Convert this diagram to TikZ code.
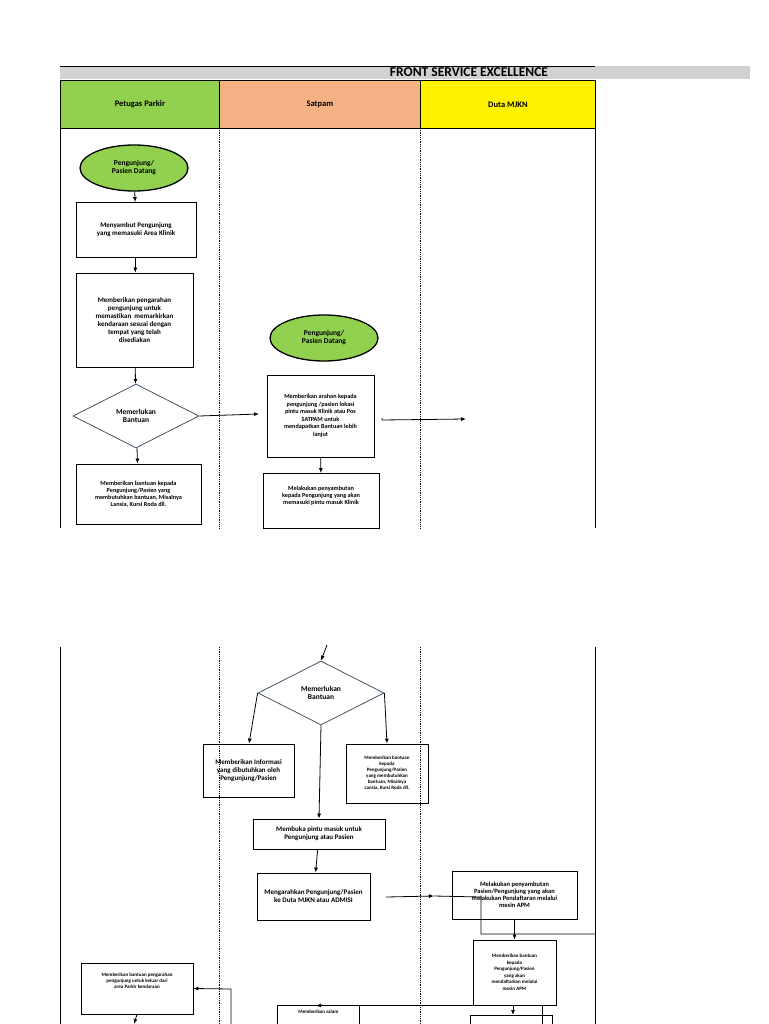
\documentclass[tikz,border=0pt]{standalone}
\usepackage{fontspec}
\setmainfont{Carlito}
\usetikzlibrary{shapes.geometric,arrows.meta}
\definecolor{lgreen}{HTML}{92D050}
\definecolor{lorange}{HTML}{F4B183}
\definecolor{dblue}{HTML}{44546A}
\begin{document}
\begin{tikzpicture}[x=1pt,y=-1pt,
  box/.style={draw,thick,align=center,font=\bfseries\fontsize{7}{8}\selectfont,inner sep=1pt},
  sbox/.style={box,font=\bfseries\fontsize{5.5}{6.3}\selectfont},
  ell/.style={ellipse,draw,line width=1.3pt,fill=lgreen,minimum width=108pt,minimum height=46pt,align=center,font=\bfseries\fontsize{7.5}{8}\selectfont,inner sep=0pt},
  dia/.style={diamond,draw=dblue,thick,aspect=2,minimum width=126pt,minimum height=64pt,align=center,font=\bfseries\fontsize{7.5}{8}\selectfont,inner sep=0pt},
  arr/.style={-{Latex[length=5pt,width=4pt]},thick},
  hdr/.style={draw,thick,font=\bfseries\fontsize{8.5}{9}\selectfont}]
\useasboundingbox (0,0) rectangle (768,1024);
% title bar
\fill[black!18] (60,66) rectangle (750,79);
\node (title) at (469,72) {\bfseries\fontsize{13.5}{13.5}\selectfont FRONT SERVICE EXCELLENCE};
\fill[white] (300,55) rectangle (650,65.5);
\draw[thick] (60,66) -- (595,66);
\node[hdr,fill=lgreen,minimum width=159pt,minimum height=48pt,anchor=north west] (h1) at (60,80) {Petugas Parkir};
\node[hdr,fill=lorange,minimum width=201pt,minimum height=48pt,anchor=north west] (h2) at (219,80) {Satpam};
\node[hdr,fill=yellow,minimum width=175pt,minimum height=48pt,anchor=north west] (h3) at (420,80) {Duta MJKN};
% lanes
\draw[thick] (60,128) -- (60,528); \draw[thick] (595,128) -- (595,528);
\draw[densely dotted,thick] (219,128) -- (219,528); \draw[densely dotted,thick] (420,128) -- (420,528);
\draw[thick] (60,647) -- (60,1024); \draw[thick] (595,647) -- (595,1024);
\draw[densely dotted,thick] (219,647) -- (219,1024); \draw[densely dotted,thick] (420,647) -- (420,1024);
% section 1
\node[ell] (e1) at (134,168) {Pengunjung/\\Pasien Datang};
\node[box,minimum width=120pt,minimum height=55pt] (b1) at (136,230) {Menyambut Pengunjung\\yang memasuki Area Klinik};
\node[box,minimum width=117pt,minimum height=94pt] (b2) at (134.5,320) {Memberikan pengarahan\\pengunjung untuk\\memastikan\ \ memarkirkan\\kendaraan sesuai dengan\\tempat yang telah\\disediakan};
\node[dia] (d1) at (136,416) {Memerlukan\\Bantuan};
\node[sbox,font=\bfseries\fontsize{6.2}{7}\selectfont,minimum width=125pt,minimum height=60pt] (b3) at (138.5,494) {Memberikan bantuan kepada\\Pengunjung/Pasien yang\\membutuhkan bantuan, Misalnya\\Lansia, Kursi Roda dll.};
\node[ell] (e2) at (324,338) {Pengunjung/\\Pasien Datang};
\node[sbox,font=\bfseries\fontsize{6.2}{7.5}\selectfont,minimum width=107pt,minimum height=82pt] (b4) at (320.5,416) {Memberikan arahan kepada\\pengunjung /pasien lokasi\\pintu masuk Klinik atau Pos\\SATPAM untuk\\mendapatkan Bantuan lebih\\lanjut};
\node[sbox,font=\bfseries\fontsize{6.2}{7}\selectfont,minimum width=116pt,minimum height=55pt,anchor=north] (b5) at (321,473) {\\Melakukan penyambutan\\kepada Pengunjung yang akan\\memasuki pintu masuk Klinik\\[6pt]};
\draw[arr] (e1) -- (b1);
\draw[arr] (b1) -- (b2);
\draw[arr] (b2) -- (d1);
\draw[arr] (d1) -- (b3);
\draw[arr] (d1.east) -- (259,414);
\coordinate (c1) at (466,419);
\draw[arr] (382,418) -- (382,420) -- (c1);
\draw[arr] (b4) -- (b5);
% section 2
\coordinate (c2) at (327,645);
\node[dia] (d2) at (321,693) {Memerlukan\\Bantuan};
\draw[arr] (c2) -- (d2.north);
\node[box,minimum width=91pt,minimum height=53pt] (b6) at (248.5,770.5) {Memberikan Informasi\\yang dibutuhkan oleh\\Pengunjung/Pasien};
\node[sbox,font=\bfseries\fontsize{5}{6}\selectfont,minimum width=82pt,minimum height=59pt] (b7) at (387,773.5) {Memberikan bantuan\\kepada\\Pengunjung/Pasien\\yang membutuhkan\\bantuan, Misalnya\\Lansia, Kursi Roda dll.};
\node[box,minimum width=132pt,minimum height=30pt] (b8) at (319,834) {Membuka pintu masuk untuk\\Pengunjung atau Pasien};
\node[box,minimum width=113pt,minimum height=47pt] (b9) at (313.5,896.5) {Mengarahkan Pengunjung/Pasien\\ke Duta MJKN atau ADMISI};
\node[box,font=\bfseries\fontsize{6.5}{7}\selectfont,minimum width=125pt,minimum height=48pt] (b10) at (514.5,895) {Melakukan penyambutan\\Pasien/Pengunjung yang akan\\melakukan Pendaftaran melalui\\mesin APM};
\node[sbox,font=\bfseries\fontsize{5}{6.5}\selectfont,minimum width=83pt,minimum height=65pt] (b11) at (514.5,972.5) {Memberikan bantuan\\kepada\\Pengunjung/Pasien\\yang akan\\mendaftarkan melalui\\mesin APM};
\node[sbox,font=\bfseries\fontsize{5}{6}\selectfont,minimum width=112pt,minimum height=51pt] (b12) at (137,988.5) {Memberikan bantuan pengarahan\\pengunjung untuk keluar dari\\area Parkir kendaraan\\[10pt]};
\node[sbox,font=\bfseries\fontsize{5}{6}\selectfont,minimum width=82pt,minimum height=30pt,anchor=north west] (b13) at (277,1005) {Memberikan salam\\[12pt]};
\node[draw,thick,minimum width=82pt,minimum height=30pt,anchor=north west] (b14) at (470,1015) {};
\draw[arr] (d2.west) -- (b6.north -| 249,0);
\draw[arr] (d2.east) -- (b7.north);
\draw[arr] (d2.south) -- (b8.north);
\draw[arr] (b8) -- (b9);
\draw[arr] (386,897) -- (434,896);
\draw[thick] (434,896) -- (481,897) -- (481,934) -- (595,934);
\draw[arr] (b10) -- (b11);
\draw[thick] (277,1005) -- (542,1005);
\draw[arr] (323,1005) -- (316,1006);
\draw[arr] (513,1005) -- (b14.north -| 513,0);
\draw[thick] (542,1005) -- (542,1024);
\draw[arr] (231,1024) -- (231,989) -- (b12.east);
\draw[arr] (b12.south) -- (134,1024);
\end{tikzpicture}
\end{document}
